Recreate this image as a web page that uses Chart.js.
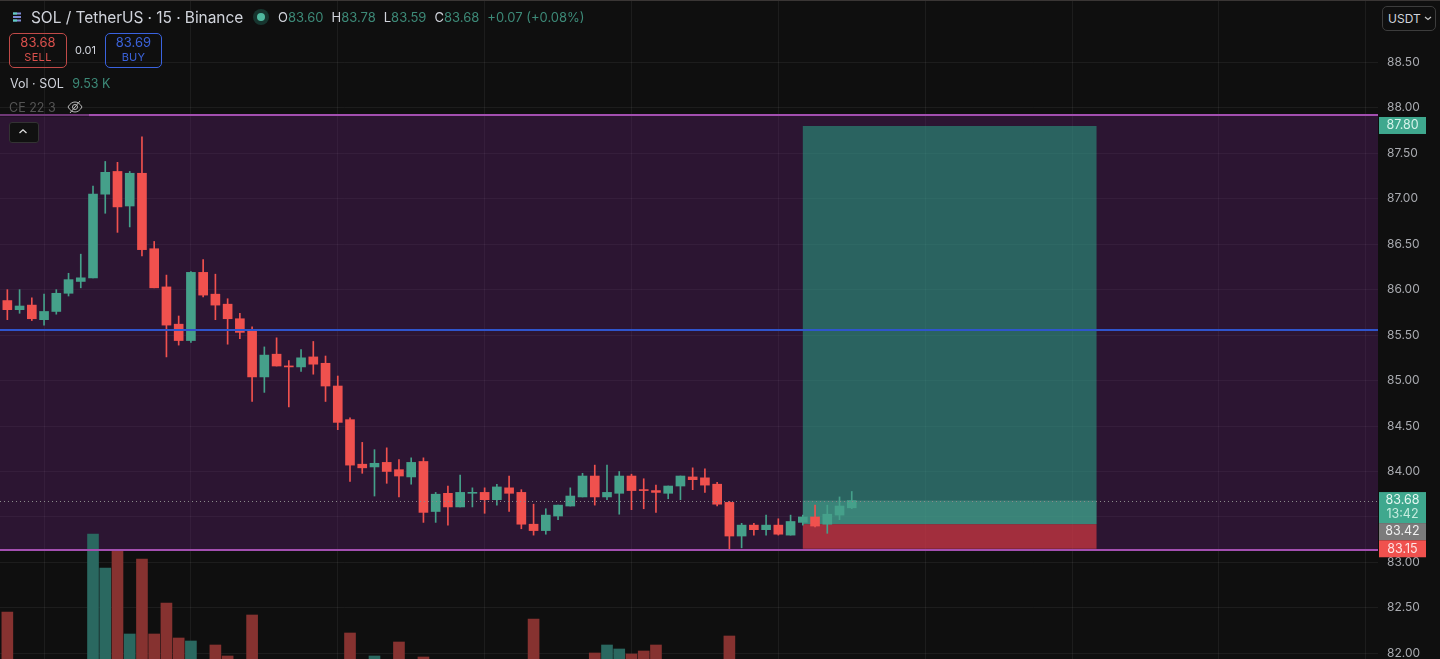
<!DOCTYPE html>
<html>
<head>
<meta charset="utf-8">
<title>SOL / TetherUS</title>
<script src="https://cdn.jsdelivr.net/npm/chart.js@4/dist/chart.umd.js"></script>
<style>
  html, body { margin:0; padding:0; background:#0f0f0f; overflow:hidden; }
  body { width:1440px; height:659px; position:relative; font-family:Inter, sans-serif; color:#d1d4dc; }
  #c { position:absolute; left:0; top:0; }
  .abs { position:absolute; white-space:nowrap; }
  .topline { left:0; top:0; width:1440px; height:1px; background:#3a3635; }
  .title { left:31px; top:8px; font-size:15.5px; line-height:20px; letter-spacing:-.07px; }
  .ohlc { left:278px; top:9px; font-size:13px; line-height:17px; color:#3d8a78; }
  .ohlc b { font-weight:400; color:#d1d4dc; }
  .ohlc span { margin-right:4.4px; }
  .dot { left:257px; top:13px; width:8px; height:8px; border-radius:50%; background:#4fb89f; box-shadow:0 0 0 4px #17352f; }
  .trade { top:33px; height:32px; border-radius:5px; border:1px solid; text-align:center; font-size:13px; line-height:15px; padding-top:1px; }
  .trade small { display:block; font-size:11px; line-height:14px; letter-spacing:.3px; }
  .sell { left:9px; width:56px; color:#d9504c; border-color:#c04a48; }
  .buy { left:105px; width:55px; color:#3b62d9; border-color:#3a63e0; }
  .spread { left:75px; top:43px; font-size:11px; line-height:14px; }
  .vol { left:10px; top:75px; font-size:12.5px; line-height:17px; }
  .vol i { font-style:normal; color:#3d8a78; margin-left:5px; }
  .ce { left:9px; top:99px; font-size:12.5px; line-height:17px; color:#555; }
  .legendmask { left:0; top:114px; width:89px; height:3px; background:rgba(15,15,15,.35); }
  .collapse { left:9px; top:122px; width:28px; height:19px; background:#111; border:1px solid #333; border-radius:3px; }
  .unit { left:1382px; top:6px; width:47px; height:23px; border:1px solid #3d3d3d; border-radius:5px; background:#0f0f0f; font-size:12px; line-height:23px; padding-left:5px; }
  svg { position:absolute; }
</style>
</head>
<body>
<canvas id="c" width="1440" height="659"></canvas>

<div class="abs topline"></div>
<svg style="left:10px;top:10px" width="14" height="14" viewBox="0 0 14 14">
  <path d="M3 3.5h8M3 7h8M3 10.5h8" stroke="#7f8cd8" stroke-width="1.8"/>
  <path d="M3 3.5h4M3 10.5h4" stroke="#5ed0c0" stroke-width="1.8"/>
</svg>
<div class="abs title">SOL / TetherUS · 15 · Binance</div>
<div class="abs dot"></div>
<div class="abs ohlc"><span><b>O</b>83.60</span> <span><b>H</b>83.78</span> <span><b>L</b>83.59</span> <span><b>C</b>83.68</span> +0.07 (+0.08%)</div>
<div class="abs trade sell">83.68<small>SELL</small></div>
<div class="abs spread">0.01</div>
<div class="abs trade buy">83.69<small>BUY</small></div>
<div class="abs vol">Vol · SOL <i>9.53 K</i></div>
<div class="abs ce">CE 22 3</div>
<svg style="left:67px;top:100px" width="16" height="14" viewBox="0 0 16 14" fill="none" stroke="#bbb" stroke-width="1">
  <path d="M1 7c2-3.500 4.500-5 7-5s5 1.500 7 5c-2 3.500-4.500 5-7 5s-5-1.500-7-5z"/>
  <circle cx="8" cy="7" r="2.500"/>
  <path d="M3 13L13 1"/>
</svg>
<div class="abs legendmask"></div>
<div class="abs collapse"></div>
<svg style="left:18px;top:128px" width="10" height="7" viewBox="0 0 10 7" fill="none" stroke="#e0e0e0" stroke-width="1.3"><path d="M1.500 5L5 1.800 8.500 5"/></svg>
<div class="abs unit">USDT</div>
<svg style="left:1424px;top:16px" width="8" height="5" viewBox="0 0 8 5" fill="none" stroke="#c8c8c8" stroke-width="1.2"><path d="M1 1l3 2.500L7 1"/></svg>

<script>
// candles
const opens = [85.88,85.78,85.83,85.67,85.76,85.96,86.09,86.13,87.05,87.30,86.92,87.28,86.45,86.03,85.62,85.44,86.19,85.95,85.84,85.68,
  85.56,85.04,85.29,85.16,85.15,85.26,85.19,84.94,84.57,84.08,84.05,84.10,84.02,83.94,84.11,83.56,83.76,83.61,83.76,83.77,
  83.69,83.82,83.77,83.42,83.35,83.51,83.62,83.72,83.95,83.72,83.76,83.95,83.80,83.79,83.76,83.84,83.94,83.93,83.86,83.66,
  83.29,83.41,83.36,83.41,83.30,83.44,83.50,83.42,83.52,83.60];
const highs = [86.00,86.00,85.91,85.95,86.00,86.18,86.39,87.14,87.41,87.40,87.30,87.68,86.53,86.16,85.71,86.20,86.33,86.17,85.90,85.74,
  85.59,85.37,85.47,85.22,85.34,85.43,85.27,85.05,84.59,84.32,84.24,84.26,84.13,84.15,84.15,83.77,83.84,83.96,83.82,83.82,
  83.86,83.95,83.80,83.64,83.59,83.63,83.82,83.98,84.07,84.07,84.00,83.97,83.92,83.85,83.84,83.95,84.04,84.03,83.88,83.67,
  83.43,83.43,83.52,83.48,83.52,83.52,83.63,83.63,83.72,83.78];
const lows = [85.67,85.74,85.66,85.61,85.73,85.93,86.02,86.13,86.84,86.63,86.69,86.37,86.02,85.26,85.39,85.42,85.92,85.67,85.40,85.46,
  84.77,84.87,85.16,84.71,85.10,85.07,84.77,84.46,83.89,83.98,83.73,83.87,83.72,83.86,83.44,83.44,83.41,83.61,83.61,83.54,
  83.63,83.56,83.37,83.30,83.31,83.47,83.62,83.72,83.63,83.69,83.53,83.58,83.59,83.55,83.70,83.69,83.80,83.77,83.62,83.15,
  83.16,83.30,83.30,83.30,83.30,83.41,83.39,83.32,83.47,83.59];
const closes = [85.78,85.82,85.68,85.76,85.96,86.11,86.13,87.05,87.29,86.91,87.28,86.44,86.02,85.61,85.44,86.19,85.94,85.83,85.68,85.53,
  85.04,85.28,85.16,85.15,85.25,85.18,84.94,84.54,84.07,84.04,84.09,84.00,83.95,84.10,83.55,83.75,83.61,83.77,83.77,83.69,
  83.83,83.76,83.42,83.35,83.52,83.63,83.73,83.95,83.72,83.77,83.95,83.79,83.79,83.77,83.84,83.95,83.91,83.85,83.64,83.29,
  83.41,83.36,83.41,83.31,83.45,83.50,83.40,83.53,83.62,83.68];
// volume in K, most of them run below the bottom edge of the crop
const volumes = [28.8,7,6,5,6,7,8,60,46.4,53.6,20,50,20,32.4,18.4,17.2,9,15.6,11.2,8,
  27.6,7,6,8,7,6,8,9,20.4,7,11.2,8,16.8,6,10.8,7,6,5,6,7,
  6,8,7,26,6,5,6,8,12.4,15.6,14,12,13.2,15.6,6,7,5,6,8,19.2,
  7,5,6,6,7,6,8,6,7,9.53];

const priceTicks = [88.5,88,87.5,87,86.5,86,85.5,85,84.5,84,83.5,83,82.5,82];
const gridIndexes = [3,15,27,39,51,63,75,87,99,111];

// drawing tools on the chart
const zoneTop = 87.92, zoneBottom = 83.14, midLevel = 85.555;
const targetPrice = 87.80, entryPrice = 83.42, stopPrice = 83.15, lastPrice = 83.68;
const boxFrom = 65, boxTo = 89;
const countdown = '13:42';

const green = '#45a08a', red = '#f0514e';
const indexes = closes.map((_, i) => i);
const isUp = i => closes[i] >= opens[i];

const tools = {
  id: 'tools',
  beforeDatasetsDraw(chart) {
    const { ctx, chartArea: a, scales: { x, y } } = chart;
    const x0 = x.getPixelForValue(boxFrom), x1 = x.getPixelForValue(boxTo);
    const band = (left, w, top, bot, col) => {
      ctx.fillStyle = col;
      ctx.fillRect(left, y.getPixelForValue(top), w, y.getPixelForValue(bot) - y.getPixelForValue(top));
    };
    ctx.save();
    band(a.left, a.width, zoneTop, zoneBottom, 'rgba(112,35,132,0.3)');
    // the position box sits under the candles, they stay bright on top of it
    band(x0, x1 - x0, targetPrice, entryPrice, 'rgba(42,166,134,0.55)');
    band(x0, x1 - x0, lastPrice, entryPrice, 'rgba(89,192,162,0.35)');
    band(x0, x1 - x0, entryPrice, stopPrice, 'rgba(203,56,65,0.75)');
    ctx.restore();
  },
  afterDatasetsDraw(chart) {
    const { ctx, chartArea: a, scales: { y } } = chart;
    const hline = (v, col, w, dash) => {
      ctx.beginPath();
      ctx.setLineDash(dash || []);
      ctx.strokeStyle = col; ctx.lineWidth = w;
      const py = Math.round(y.getPixelForValue(v)) + (w % 2 ? 0.5 : 0);
      ctx.moveTo(a.left, py); ctx.lineTo(a.right, py); ctx.stroke();
      ctx.setLineDash([]);
    };
    ctx.save();
    hline(lastPrice, '#8a8a8a', 1, [1, 3]);
    hline(midLevel, '#2f55cc', 2);
    hline(zoneTop, '#a34fb0', 2);
    hline(zoneBottom, '#a34fb0', 2);
    ctx.restore();
  },
  afterDraw(chart) {
    const { ctx, chartArea: a, scales: { y } } = chart;
    const pill = (top, h, col, lines) => {
      ctx.fillStyle = col;
      ctx.fillRect(a.right + 1, top, 47, h);
      ctx.font = '12.5px Inter';
      ctx.textAlign = 'center'; ctx.textBaseline = 'middle';
      lines.forEach((l, i) => {
        ctx.fillStyle = l[1];
        ctx.fillText(l[0], a.right + 24.5, top + 8.5 + i * 14);
      });
    };
    ctx.save();
    const stopTop = y.getPixelForValue(stopPrice) - 8.5;
    const lastTop = y.getPixelForValue(lastPrice) - 8.5;
    pill(y.getPixelForValue(targetPrice) - 9, 17, '#3fa88e', [[targetPrice.toFixed(2), '#d5f3ea']]);
    pill(lastTop, 31, '#3fa88e', [[lastPrice.toFixed(2), '#e4f7f1'], [countdown, '#c5ecdf']]);
    pill(lastTop + 31, stopTop - lastTop - 31, '#7b7b7b', [[entryPrice.toFixed(2), '#f0f0f0']]);
    pill(stopTop, 17, '#f0514e', [[stopPrice.toFixed(2), '#fde3e2']]);
    ctx.restore();
  }
};

new Chart(document.getElementById('c'), {
  type: 'bar',
  plugins: [tools],
  data: {
    datasets: [
      { yAxisID: 'vol', order: 3, barThickness: 11, grouped: false,
        data: indexes.map(i => ({ x: i, y: volumes[i] })),
        backgroundColor: indexes.map(i => isUp(i) ? '#2a6860' : '#863230') },
      { order: 2, barThickness: 1, grouped: false,
        data: indexes.map(i => ({ x: i, y: [lows[i], highs[i]] })),
        backgroundColor: indexes.map(i => isUp(i) ? green : red) },
      { order: 1, barThickness: 9, grouped: false, minBarLength: 1,
        data: indexes.map(i => ({ x: i, y: [opens[i], closes[i]] })),
        backgroundColor: indexes.map(i => isUp(i) ? green : red) }
    ]
  },
  options: {
    responsive: false, animation: false,
    layout: { padding: 0 },
    plugins: { legend: { display: false }, tooltip: { enabled: false } },
    scales: {
      x: {
        type: 'linear', offset: false, min: -0.6, max: 112,
        afterBuildTicks: s => { s.ticks = gridIndexes.map(v => ({ value: v })); },
        ticks: { display: false },
        grid: { color: 'rgba(255,255,255,0.06)', drawTicks: false, offset: false },
        border: { display: false }
      },
      y: {
        position: 'right', min: 81.9375, max: 89.1857,
        afterBuildTicks: s => { s.ticks = priceTicks.map(v => ({ value: v })); },
        // axis sits flush with the canvas, no room kept for half labels
        afterFit: s => { s.width = 62; s.paddingTop = 0; s.paddingBottom = 0; },
        ticks: { padding: 9, color: '#a9abb0', font: { family: 'Inter', size: 12 }, callback: v => v.toFixed(2), autoSkip: false },
        grid: { color: 'rgba(255,255,255,0.06)', drawTicks: false },
        border: { display: false }
      },
      vol: { display: false, min: 10, max: 273.6 }
    }
  }
});
</script>
</body>
</html>
